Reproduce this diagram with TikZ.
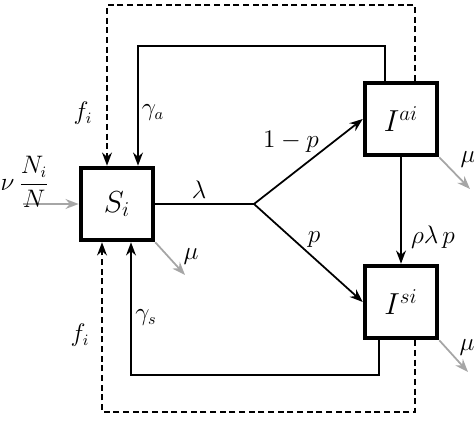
\documentclass[tikz,border=0pt]{standalone}
\usepackage{amsmath}
\usepackage{amssymb}
\usetikzlibrary{arrows.meta}
\definecolor{flowgray}{HTML}{A6A6A6}

\begin{document}
\begin{tikzpicture}[
    >=Stealth,
    every node/.style={inner sep=2pt},
    compartment/.style={draw, line width=2.3pt, minimum size=1.45cm, inner sep=0pt, font=\fontsize{17}{20}\selectfont},
    flow/.style={->, line width=1pt},
    feedback/.style={->, line width=1pt, dash pattern=on 3.5pt off 2pt},
    death/.style={->, line width=1pt, flowgray},
    rate/.style={font=\fontsize{13.5}{16}\selectfont}
]
    \useasboundingbox (0,0) rectangle (9.48,8.4);

    % 1. Define the compartments
    \node[compartment] (S) at (2.34,4.32) {$S_i$};
    \node[compartment] (Ia) at (8.02,6.02) {$I^{ai}$};
    \node[compartment] (Is) at (8.02,2.36) {$I^{si}$};

    % branch point, loop corners and free ends
    \coordinate (B) at (5.08,4.32);
    \coordinate (topd) at (5,8.3);
    \coordinate (tops) at (5,7.48);
    \coordinate (botd) at (5,0.16);
    \coordinate (bots) at (5,0.9);
    \coordinate (in) at (0.46,4.32);
    \coordinate (outS) at (3.7,2.9);
    \coordinate (outA) at (9.4,4.62);
    \coordinate (outI) at (9.36,0.96);

    % 2. Draw the arrows

    % S -> branch -> Ia, Is
    \draw[line width=1pt] (S) -- (B);
    \draw[flow] (B) -- (Ia.west);
    \draw[flow] (B) -- (Is.west);

    % Ia -> Is
    \draw[flow] (Ia) -- (Is);

    % recovery back to S (solid)
    \draw[flow] ([xshift=-0.32cm]Ia.north) |- (tops) -| ([xshift=0.42cm]S.north);
    \draw[flow] ([xshift=-0.44cm]Is.south) |- (bots) -| ([xshift=0.28cm]S.south);

    % return to S (dashed)
    \draw[feedback] ([xshift=0.28cm]Ia.north) |- (topd) -| ([xshift=-0.2cm]S.north);
    \draw[feedback] ([xshift=0.28cm]Is.south) |- (botd) -| ([xshift=-0.3cm]S.south);

    % inflow and deaths (grey)
    \draw[death] (in) -- (S);
    \draw[death] (S.south east) -- (outS);
    \draw[death] (Ia.south east) -- (outA);
    \draw[death] (Is.south east) -- (outI);

    % 3. Rate labels
    \node[rate] (lam) at (3.98,4.6) {$\lambda$};
    \node[rate] (one) at (5.82,5.56) {$1-p$};
    \node[rate] (p) at (6.28,3.6) {$p$};
    \node[rate] (rho) at (8.66,3.66) {$\rho\lambda\,p$};
    \node[rate] (fa) at (1.66,6.14) {$f_i$};
    \node[rate] (ga) at (3.06,6.14) {$\gamma_a$};
    \node[rate] (fs) at (1.6,1.7) {$f_i$};
    \node[rate] (gs) at (2.92,2.04) {$\gamma_s$};
    \node[rate] (muS) at (3.82,3.26) {$\mu$};
    \node[rate] (muA) at (9.36,5.2) {$\mu$};
    \node[rate] (muI) at (9.34,1.44) {$\mu$};
    \node[rate, inner sep=0pt] (nu) at (0.5,4.76) {$\nu\,\dfrac{N_i}{N}$};

\end{tikzpicture}
\end{document}
